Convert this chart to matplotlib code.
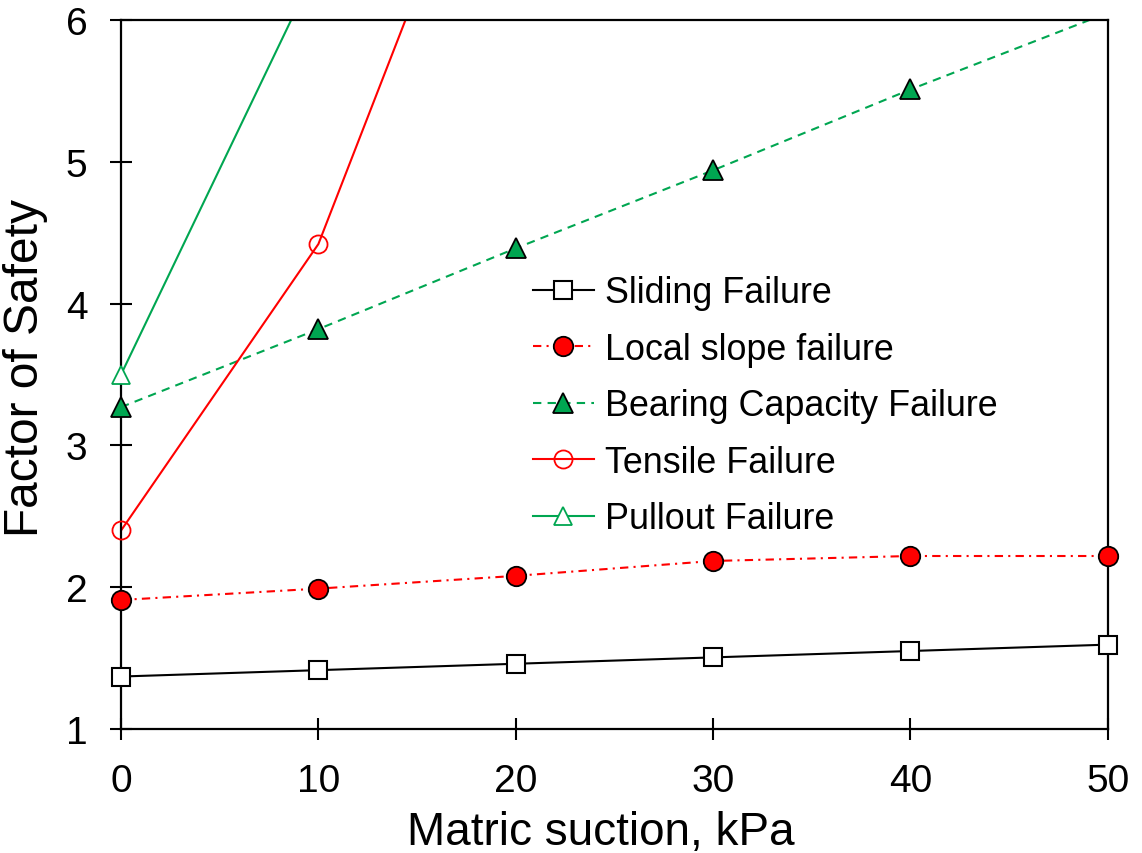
import matplotlib
matplotlib.use("Agg")
import matplotlib.pyplot as plt
import numpy as np
from matplotlib.legend_handler import HandlerTuple

plt.rcParams['font.family'] = ['Liberation Sans', 'DejaVu Sans']

# ---- data ----
suction = [0, 10, 20, 30, 40, 50]
sliding = [1.37, 1.415, 1.46, 1.505, 1.55, 1.595]
local_slope = [1.91, 1.99, 2.08, 2.185, 2.22, 2.22]
bearing = [3.27, 3.82, 4.39, 4.94, 5.51, 6.05]
tensile_x = [0, 10, 20]
tensile = [2.40, 4.42, 8.00]
pullout_x = [0, 10]
pullout = [3.50, 6.40]

labels = ["Sliding Failure", "Local slope failure", "Bearing Capacity Failure",
          "Tensile Failure", "Pullout Failure"]
xticks = [0, 10, 20, 30, 40, 50]
yticks = [1, 2, 3, 4, 5, 6]
ymin, ymax = 1, 6

red = "#FF0000"
green = "#00A651"

fig = plt.figure(figsize=(11.42, 8.54), dpi=100)
ax = fig.add_axes([0.106, 0.1452, 0.864, 0.8302])

lw = 1.5
series = [
    (suction, sliding, dict(color="black", ls="-"),
     dict(marker="s", ms=13, mfc="white", mec="black", mew=1.5)),
    (suction, local_slope, dict(color=red, ls=(0, (4, 2.5, 1, 2.5))),
     dict(marker="o", ms=14, mfc=red, mec="black", mew=1.3)),
    (suction, bearing, dict(color=green, ls=(0, (4, 3))),
     dict(marker="^", ms=14, mfc=green, mec="black", mew=1.3)),
    (tensile_x, tensile, dict(color=red, ls="-"),
     dict(marker="o", ms=13, mfc="none", mec=red, mew=1.3)),
    (pullout_x, pullout, dict(color=green, ls="-"),
     dict(marker="^", ms=13, mfc="white", mec=green, mew=1.3)),
]

handles = []
for (xs, ys, lstyle, mstyle) in series:
    xs = np.asarray(xs, float)
    ys = np.asarray(ys, float)
    ln, = ax.plot(xs, ys, lw=lw, zorder=2, **lstyle)
    inside = ys <= ymax
    mk, = ax.plot(xs[inside], ys[inside], ls="none", zorder=3, clip_on=False, **mstyle)
    h_line, = ax.plot([], [], lw=lw, **lstyle)
    h_mk, = ax.plot([], [], ls="none", **mstyle)
    handles.append((h_line, h_mk))

ax.set_xlim(0, 50)
ax.set_ylim(ymin, ymax)
ax.set_xticks(xticks)
ax.set_yticks(yticks)
ax.tick_params(direction="inout", length=16.5, width=1.5, labelsize=28, pad=16)
for s in ax.spines.values():
    s.set_linewidth(1.6)

ax.set_xlabel("Matric suction, kPa", fontsize=33, labelpad=8)
ax.set_ylabel("Factor of Safety", fontsize=34.5, labelpad=13)
ax.xaxis.label.set_x(0.486)
ax.yaxis.label.set_y(0.51)

leg = ax.legend(handles, labels, handler_map={tuple: HandlerTuple(ndivide=1, pad=0)},
                loc="center left", bbox_to_anchor=(0.417, 0.456), frameon=False,
                fontsize=25.8, borderpad=0, borderaxespad=0, handlelength=1.73,
                handletextpad=0.3, labelspacing=0.6, numpoints=1)

fig.savefig("out.png", dpi=100)
